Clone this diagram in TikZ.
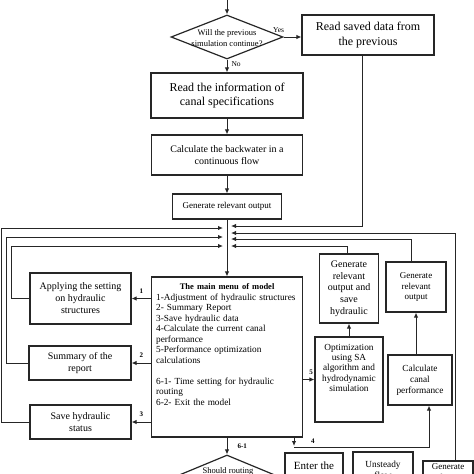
\documentclass[tikz,border=0pt]{standalone}
\usepackage{fontspec}
\setmainfont{Liberation Serif}
\usepackage{tikz}
\usetikzlibrary{shapes.geometric,arrows.meta,calc}

\tikzset{
        box/.style={draw=black!85, line width=1.2pt, inner sep=0pt, align=center},
        decision/.style={draw=black!85, line width=1.2pt, diamond, inner sep=0pt},
        link/.style={line width=1pt, draw=black!85},
        arr/.style={link, -{Latex[length=5pt,width=4.5pt]}},
        num/.style={font=\fontsize{7}{8}\selectfont\bfseries, inner sep=1pt},
        small/.style={font=\fontsize{7.5}{9}\selectfont, inner sep=1pt},
}

\begin{document}
\begin{tikzpicture}[x=1pt,y=-1pt]
        \useasboundingbox (0,0) rectangle (474,474);
        \clip (0,0) rectangle (474,474);
        \coordinate (top) at (227,0);
        \node[decision, minimum width=112, minimum height=44] (prev) at (227,37) {};
        \node[font=\fontsize{8.5}{11}\selectfont, align=center, inner sep=0pt] (prevtxt) at (227,38) {Will the previous\\simulation continue?};
        \node[box, minimum width=132, minimum height=40, font=\fontsize{12}{15}\selectfont] (saved) at (368,35) {Read saved data from\\the previous};
        \node[box, minimum width=152, minimum height=45, font=\fontsize{12}{14}\selectfont] (info) at (227,95.5) {Read the information of\\canal specifications};
        \node[box, minimum width=151, minimum height=40, font=\fontsize{10}{12}\selectfont] (backwater) at (227,155) {Calculate the backwater in a\\continuous flow};
        \node[box, minimum width=109, minimum height=25, font=\fontsize{9}{11}\selectfont] (out1) at (227,206.5) {Generate relevant output};
        \node[box, minimum width=151, minimum height=160] (menu) at (227,357) {};
        \node[anchor=north west, text width=142, align=left, inner sep=0pt, font=\fontsize{9.3}{10.5}\selectfont] (menutxt) at ($(menu.north west)+(5,7)$) {{\centering\bfseries\fontsize{8.5}{10.5}\selectfont The main menu of model\par}
1-Adjustment of hydraulic structures\\
2- Summary Report\\
3-Save hydraulic data\\
4-Calculate the current canal\\
performance\\
5-Performance optimization\\
calculations\\[10.5pt]
6-1- Time setting for hydraulic\\
routing\\
6-2- Exit the model};
        \node[box, minimum width=101, minimum height=51, font=\fontsize{10}{12}\selectfont] (apply) at (80.5,298.5) {Applying the setting\\on hydraulic\\structures};
        \node[box, minimum width=102, minimum height=34, font=\fontsize{10}{12}\selectfont] (summary) at (80,363) {Summary of the\\report};
        \node[box, minimum width=101, minimum height=34, font=\fontsize{10}{12}\selectfont] (savest) at (80.5,422) {Save hydraulic\\status};
        \node[box, minimum width=59, minimum height=69, font=\fontsize{10}{11.7}\selectfont] (gensave) at (349,288.5) {Generate\\relevant\\output and\\save\\hydraulic};
        \node[box, minimum width=60, minimum height=50, font=\fontsize{9}{10.5}\selectfont] (out2) at (416,287) {Generate\\relevant\\output};
        \node[box, minimum width=68, minimum height=85] (optim) at (349,379.5) {};
        \node[anchor=north, align=center, inner sep=0pt, font=\fontsize{9.3}{10.3}\selectfont] (optimtxt) at ($(optim.north)+(0,7.5)$) {Optimization\\using SA\\algorithm and\\hydrodynamic\\simulation};
        \node[box, minimum width=64, minimum height=50, font=\fontsize{9.3}{11}\selectfont] (perf) at (420,380) {Calculate\\canal\\performance};
        \node[box, minimum width=58, minimum height=26, font=\fontsize{11}{13}\selectfont] (enter) at (314,466) {Enter the};
        \node[box, minimum width=60, minimum height=36, font=\fontsize{9.3}{11}\selectfont] (unsteady) at (383,470) {Unsteady\\flow};
        \node[box, minimum width=50, minimum height=22, font=\fontsize{9}{11}\selectfont] (genrel) at (448,472) {Generate\\relevant};
        \node[decision, minimum width=120, minimum height=50] (route) at (227,480) {};
        \node[font=\fontsize{8.5}{10}\selectfont, inner sep=0pt] (routetxt) at (228,471) {Should routing};
        \coordinate (inL1) at (223,228);
        \coordinate (inL2) at (223,237);
        \coordinate (inL3) at (223,246);
        \coordinate (inR1) at (231,226);
        \coordinate (inR2) at (231,233);
        \coordinate (inR3) at (231,239);
        \coordinate (inR4) at (231,246);
        \coordinate (c4) at (294,447);
        \draw[arr] (top) -- (prev);
        \draw[arr] (prev.east) -- (prev.east -| saved.west) node[small, pos=0, anchor=south, xshift=-5, yshift=3] (yes) {Yes};
        \draw[arr] (prev) -- (info) node[small, pos=0, anchor=north west, xshift=3] (no) {No};
        \draw[arr] (info) -- (backwater);
        \draw[arr] (backwater) -- (out1);
        \draw[arr] (out1) -- (menu);
        \draw[arr] (savest.west) -- ++(-28,0) |- (inL1);
        \draw[arr] (summary.west) -- ++(-22,0) |- (inL2);
        \draw[arr] (apply.west) -- ++(-18,0) |- (inL3);
        \draw[arr] ([xshift=-6]saved.south) |- (inR1);
        \draw[arr] ([xshift=7]genrel.north) |- (inR2);
        \draw[arr] ([xshift=-5]out2.north) |- (inR3);
        \draw[arr] ([xshift=-2]gensave.north) |- (inR4);
        \draw[arr] (menu.west |- apply.east) -- (apply.east) node[num, midway, above=4pt] {1};
        \draw[arr] (menu.west |- summary.east) -- (summary.east) node[num, midway, above=4pt] {2};
        \draw[arr] (menu.west |- savest.east) -- (savest.east) node[num, midway, above=4pt] {3};
        \draw[arr] (menu.east |- optim.west) -- (optim.west) node[num, pos=.7, above=3pt] {5};
        \draw[arr] (optim) -- (gensave);
        \draw[arr] (perf.north -| out2.south) -- (out2.south);
        \draw[arr] (menu.south -| c4) -- ([yshift=1]c4);
        \draw[arr] (c4) -| ([xshift=9]perf.south) node[num, pos=.07, above=2.5pt] {4};
        \draw[arr] (menu.south) -- (route.north) node[num, midway, right=9pt] {6-1};
\end{tikzpicture}
\end{document}
